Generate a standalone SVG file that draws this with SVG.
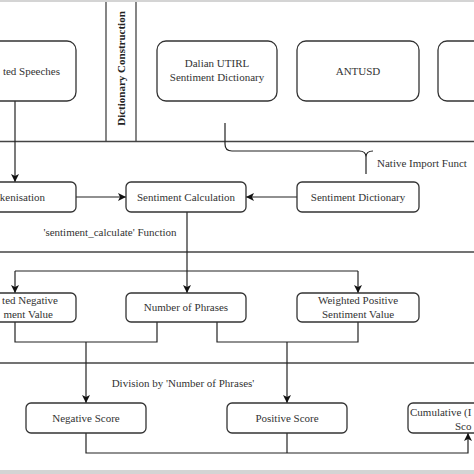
<svg xmlns="http://www.w3.org/2000/svg" width="474" height="474" viewBox="0 0 474 474">
<defs>
<marker id="arr" viewBox="0 0 10 10" refX="10" refY="5" markerWidth="8" markerHeight="8" markerUnits="userSpaceOnUse" orient="auto">
<path d="M0,0 L10,5 L0,10 L2.5,5 z" fill="#111"/>
</marker>
<style>
.box{fill:#fff;stroke:#333;stroke-width:1.3}
.t{font-family:"Liberation Serif","Times New Roman",serif;font-size:11px;fill:#333}
.c{fill:none;stroke:#222;stroke-width:1.2}
.sep{fill:none;stroke:#444;stroke-width:1.3}
</style>
</defs>
<rect x="0" y="0" width="474" height="474" fill="#fff"/>
<rect x="0" y="0" width="474" height="2" fill="#d4d4d4"/>
<rect x="0" y="470" width="474" height="4" fill="#d4d4d4"/>

<g id="lanes">
<line class="sep" x1="0" y1="141.5" x2="474" y2="141.5"/>
<line class="sep" x1="0" y1="252" x2="474" y2="252"/>
<line class="sep" x1="0" y1="363" x2="474" y2="363"/>
<line class="sep" x1="106" y1="2" x2="106" y2="141.5"/>
<line class="sep" x1="136" y1="2" x2="136" y2="141.5"/>
<text class="t" transform="translate(125,68.5) rotate(-90)" text-anchor="middle" style="font-weight:bold;font-size:11px;fill:#222">Dictionary Construction</text>
<path class="c" d="M225,123 L225,144 Q225,151 232,151 L359,151 Q366,151 366,157 Q366,151 373,151"/>
<line class="c" x1="366" y1="157" x2="366" y2="174"/>
<text class="t" x="377" y="167">Native Import Funct</text>
<text class="t" x="110" y="236" text-anchor="middle">'sentiment_calculate' Function</text>
<text class="t" x="183" y="387" text-anchor="middle">Division by 'Number of Phrases'</text>
</g>

<g id="connectors">
<line class="c" x1="15" y1="101" x2="15" y2="182" marker-end="url(#arr)"/>
<line class="c" x1="76" y1="197" x2="126" y2="197" marker-end="url(#arr)"/>
<line class="c" x1="297" y1="197" x2="246" y2="197" marker-end="url(#arr)"/>
<polyline class="c" points="187,212 187,271"/>
<polyline class="c" points="15,271 358,271"/>
<line class="c" x1="15" y1="271" x2="15" y2="293" marker-end="url(#arr)"/>
<line class="c" x1="187" y1="271" x2="187" y2="293" marker-end="url(#arr)"/>
<line class="c" x1="358" y1="271" x2="358" y2="293" marker-end="url(#arr)"/>
<polyline class="c" points="15,322 15,342 157,342 157,322"/>
<polyline class="c" points="217,322 217,342 358,342 358,322"/>
<line class="c" x1="86" y1="342" x2="86" y2="403" marker-end="url(#arr)"/>
<line class="c" x1="287" y1="342" x2="287" y2="403" marker-end="url(#arr)"/>
<polyline class="c" points="86,433 86,453 468,453 468,433" marker-end="url(#arr)"/>
<line class="c" x1="287" y1="433" x2="287" y2="453"/>
</g>

<g id="speeches">
<rect class="box" x="-60" y="41" width="136" height="60" rx="9"/>
<text class="t" x="60" y="75" text-anchor="end">ted Speeches</text>
</g>
<g id="dalian">
<rect class="box" x="157" y="41" width="120" height="60" rx="9"/>
<text class="t" x="217" y="67" text-anchor="middle">Dalian UTIRL</text>
<text class="t" x="217" y="81" text-anchor="middle">Sentiment Dictionary</text>
</g>
<g id="antusd">
<rect class="box" x="297" y="41" width="122" height="60" rx="9"/>
<text class="t" x="358" y="75" text-anchor="middle">ANTUSD</text>
</g>
<g id="dict4">
<rect class="box" x="438" y="41" width="80" height="60" rx="9"/>
</g>

<g id="tokenisation">
<rect class="box" x="-50" y="182" width="126" height="30" rx="5"/>
<text class="t" x="45" y="201" text-anchor="end">kenisation</text>
</g>
<g id="sentcalc">
<rect class="box" x="126" y="182" width="120" height="30" rx="5"/>
<text class="t" x="186" y="201" text-anchor="middle">Sentiment Calculation</text>
</g>
<g id="sentdict">
<rect class="box" x="297" y="182" width="122" height="30" rx="5"/>
<text class="t" x="358" y="201" text-anchor="middle">Sentiment Dictionary</text>
</g>

<g id="wneg">
<rect class="box" x="-50" y="293" width="126" height="29" rx="5"/>
<text class="t" x="58" y="304" text-anchor="end">ted Negative</text>
<text class="t" x="53" y="318" text-anchor="end">ment Value</text>
</g>
<g id="phrases">
<rect class="box" x="126" y="293" width="120" height="29" rx="5"/>
<text class="t" x="186" y="311" text-anchor="middle">Number of Phrases</text>
</g>
<g id="wpos">
<rect class="box" x="297" y="293" width="122" height="29" rx="5"/>
<text class="t" x="358" y="304" text-anchor="middle">Weighted Positive</text>
<text class="t" x="358" y="318" text-anchor="middle">Sentiment Value</text>
</g>

<g id="negscore">
<rect class="box" x="26" y="403" width="120" height="30" rx="5"/>
<text class="t" x="86" y="422" text-anchor="middle">Negative Score</text>
</g>
<g id="posscore">
<rect class="box" x="227" y="403" width="120" height="30" rx="5"/>
<text class="t" x="287" y="422" text-anchor="middle">Positive Score</text>
</g>
<g id="cumulative">
<rect class="box" x="408" y="403" width="120" height="30" rx="5"/>
<text class="t" x="410" y="416">Cumulative (I</text>
<text class="t" x="455" y="430">Sco</text>
</g>
</svg>
